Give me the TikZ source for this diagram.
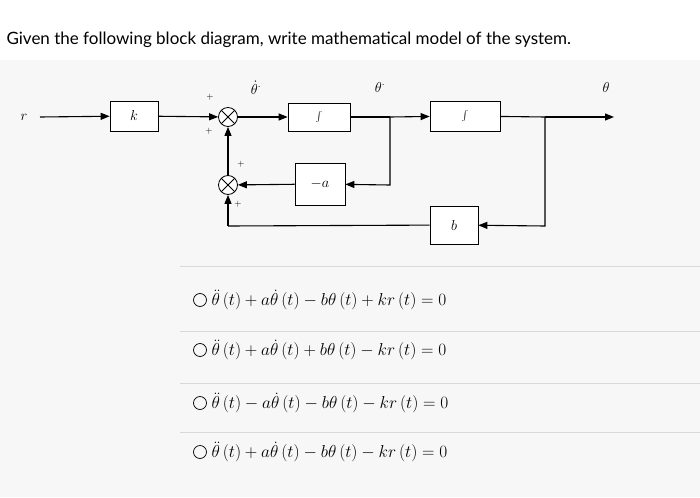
\documentclass[tikz,border=0pt]{standalone}
\usepackage{fontspec}
\setsansfont{Lato}
\usetikzlibrary{arrows.meta}
\begin{document}
\begin{tikzpicture}[x=1pt,y=-1pt,
  blk/.style={draw,line width=0.7pt,fill=white,inner sep=0pt},
  sumc/.style={draw,circle,line width=0.8pt,minimum size=19pt,inner sep=0pt,fill=white,
    path picture={\draw[line width=0.8pt] (path picture bounding box.north west)--(path picture bounding box.south east)
      (path picture bounding box.north east)--(path picture bounding box.south west);}},
  sig/.style={line width=1.1pt,-{Triangle[length=9pt,width=7pt]}},
  ln/.style={line width=1.1pt},
  opt/.style={draw,circle,line width=0.7pt,minimum size=13pt,inner sep=0pt},
  lbl/.style={font=\fontsize{14}{16}\selectfont},
  eq/.style={anchor=west,font=\fontsize{17}{20}\selectfont}]
\useasboundingbox (0,0) rectangle (700,497);
\fill[white] (0,0) rectangle (700,497);
\fill[black!3] (0,60) rectangle (700,497);
\node[anchor=west,font=\sffamily\fontsize{17}{20}\selectfont] (title) at (3,40) {Given the following block diagram, write mathematical model of the system.};
% diagram
\node[lbl] (r) at (24,117) {$r$};
\coordinate (rs) at (40,117);
\node[blk,minimum width=48pt,minimum height=30pt,lbl] (k) at (134,116) {$k$};
\node[sumc] (s1) at (228,117) {};
\node[blk,minimum width=62pt,minimum height=28pt,lbl] (i1) at (319,117) {$\int$};
\node[blk,minimum width=70pt,minimum height=30pt,lbl] (i2) at (465,116) {$\int$};
\coordinate (b1) at (390,117);
\coordinate (b2) at (545,117);
\coordinate (out) at (614,117);
\node[sumc] (s2) at (228,185) {};
\node[blk,minimum width=50pt,minimum height=42pt,lbl] (na) at (320,184) {$-a$};
\node[blk,minimum width=48pt,minimum height=38pt,lbl] (b) at (454,225) {$b$};
\coordinate (c1) at (390,185);
\coordinate (c2) at (545,226);
\coordinate (c3) at (228,226);
\draw[sig] (rs) -- (k);
\draw[sig] (k) -- (s1);
\draw[sig] (s1) -- (i1);
\draw[ln] (i1) -- (b1);
\draw[sig] (b1) -- (i2);
\draw[ln] (i2) -- (b2);
\draw[sig] (b2) -- (out);
\draw[sig] (b1) -- (c1) -- (na);
\draw[sig] (na) -- (s2);
\draw[sig] (s2) -- (s1);
\draw[sig] (b2) -- (c2) -- (b);
\draw[ln] (b) -- (c3);
\draw[sig] (c3) -- (s2);
\node[lbl] (l1) at (256,88) {$\dot{\theta}^{\cdot}$};
\node[lbl] (l2) at (380,88) {$\theta^{\cdot}$};
\node[lbl] (l3) at (606,88) {$\theta$};
\node[font=\small] (p1) at (210,97) {$+$};
\node[font=\small] (p2) at (209,131) {$+$};
\node[font=\small] (p3) at (241,164) {$+$};
\node[font=\small] (p4) at (238,204) {$+$};
% options
\draw[black!15,line width=0.6pt] (180,266) -- (700,266);
\draw[black!15,line width=0.6pt] (180,331) -- (700,331);
\draw[black!15,line width=0.6pt] (180,383) -- (700,383);
\draw[black!15,line width=0.6pt] (180,432) -- (700,432);
\node[opt] (o1) at (200,300) {};
\node[opt] (o2) at (200,350) {};
\node[opt] (o3) at (200,403) {};
\node[opt] (o4) at (200,452) {};
\node[eq] (e1) at (208,300) {$\ddot\theta\,(t)+a\dot\theta\,(t)-b\theta\,(t)+kr\,(t)=0$};
\node[eq] (e2) at (208,350) {$\ddot\theta\,(t)+a\dot\theta\,(t)+b\theta\,(t)-kr\,(t)=0$};
\node[eq] (e3) at (208,403) {$\ddot\theta\,(t)-a\dot\theta\,(t)-b\theta\,(t)-kr\,(t)=0$};
\node[eq] (e4) at (208,452) {$\ddot\theta\,(t)+a\dot\theta\,(t)-b\theta\,(t)-kr\,(t)=0$};
\end{tikzpicture}
\end{document}
